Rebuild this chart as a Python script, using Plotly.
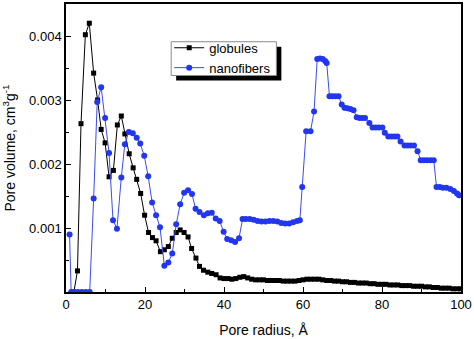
import plotly.graph_objects as go

# globules (black squares)
glob_x = [2, 2.9, 3.8, 4.9, 5.9, 7.0, 8.0, 8.9, 9.9, 10.9, 12.0, 13.0, 14.0, 14.9, 16.0, 17.0,
          17.9, 18.9, 19.9, 20.9, 21.9, 22.8, 23.9, 24.9, 25.9, 26.9, 27.9, 28.9, 29.9, 30.9,
          31.8, 32.9, 33.8, 34.8, 35.9, 36.9, 38, 39, 40, 41, 42, 43, 44, 45, 46, 47, 48, 49,
          50, 51, 52, 53, 54, 55, 56, 57, 58, 59, 60, 61, 62, 63, 64, 65, 66, 67, 68, 69, 70,
          71, 72, 73, 74, 75, 76, 77, 78, 79, 80, 81, 82, 83, 84, 85, 86, 87, 88, 89, 90, 91,
          92, 93, 94, 95, 96, 97, 98, 99, 100]
glob_y = [0, 0.00033, 0.00263, 0.00402, 0.0042, 0.00342, 0.0030, 0.00254, 0.00233, 0.0018,
          0.0019, 0.00261, 0.00275, 0.00247, 0.00216, 0.00194, 0.00176, 0.00154, 0.0012,
          0.00093, 0.00085, 0.0008, 0.00063, 0.00066, 0.00071, 0.00084, 0.00093, 0.00097,
          0.00093, 0.00086, 0.00068, 0.00053, 0.0004, 0.00034, 0.00031, 0.00029, 0.00027,
          0.00022, 0.00021, 0.00021, 0.0002, 0.00021, 0.00023, 0.00024, 0.00022, 0.0002,
          0.00019, 0.00019, 0.00019, 0.00018, 0.00018, 0.00018, 0.00018, 0.00017, 0.00017,
          0.00017, 0.00017, 0.00018, 0.00019, 0.0002, 0.0002, 0.0002, 0.0002, 0.00019,
          0.00018, 0.00018, 0.00017, 0.00017, 0.00016, 0.00016, 0.00015, 0.00015, 0.00014,
          0.00014, 0.00014, 0.00013, 0.00013, 0.00012, 0.00012, 0.00012, 0.00011, 0.00011,
          0.00011, 0.0001, 0.0001, 0.0001, 0.00009, 0.00009, 0.00009, 0.00008, 0.00008,
          0.00007, 0.00007, 0.00006, 0.00006, 0.00006, 0.00005, 0.00005, 0.00005]

# nanofibers (blue circles)
nano_x = [0.9, 1.3, 2, 3, 4, 5, 6, 7, 7.9, 8.9, 9.9, 10.9, 11.9, 12.9, 14.0, 14.9, 15.9, 16.9,
          17.9, 18.8, 19.8, 20.8, 21.8, 22.8, 23.8, 24.9, 25.9, 26.9, 27.9, 28.9, 29.9, 30.9,
          31.9, 32.8, 33.8, 34.9, 35.9, 36.9, 37.9, 38.9, 39.9, 40.8, 41.8, 42.8, 43.8, 44.7,
          45.5, 46.5, 47.5, 48.5, 49.5, 50.5, 51.5, 52.5, 53.5, 54.5, 55.5, 56.5, 57.5, 58.5,
          59.2, 59.8, 60.8, 61.9, 62.8, 63.6, 64.3, 65, 65.6, 66, 66.7, 67.4, 68.2, 69, 69.8,
          70.5, 71.2, 72, 72.8, 73.6, 74.3, 75, 75.7, 76.8, 77.6, 78.4, 79.2, 80.1, 80.7, 81.6,
          82.4, 83.2, 83.9, 84.7, 85.7, 86.5, 87.3, 88.1, 89, 89.8, 90.6, 91.4, 92.3, 93.1,
          93.8, 94.6, 95.4, 96.3, 97.3, 98.2, 99, 99.5]
nano_y = [0.0009, 0, 0, 0, 0, 0, 0, 0.00146, 0.00297, 0.0032, 0.00272, 0.00217, 0.00112,
          0.00099, 0.00179, 0.00231, 0.0025, 0.00248, 0.00241, 0.00232, 0.00213, 0.00181,
          0.0014, 0.0012, 0.00101, 0.00041, 0.00046, 0.0006, 0.00106, 0.00137, 0.00155,
          0.00159, 0.00153, 0.0013, 0.00125, 0.0012, 0.00123, 0.00124, 0.00115, 0.00111,
          0.00094, 0.00083, 0.00081, 0.00078, 0.00084, 0.00114, 0.00114, 0.00114, 0.00113,
          0.00111, 0.0011, 0.0011, 0.00111, 0.00111, 0.0011, 0.00108, 0.00107, 0.00107,
          0.00109, 0.00111, 0.00112, 0.00164, 0.00251, 0.00251, 0.00282, 0.00364, 0.00365,
          0.00364, 0.00361, 0.00358, 0.00306, 0.00306, 0.00306, 0.00306, 0.00293, 0.00288,
          0.00287, 0.00286, 0.00284, 0.00273, 0.00272, 0.00272, 0.00272, 0.00264, 0.00257,
          0.00257, 0.00257, 0.00257, 0.00249, 0.00243, 0.00243, 0.00243, 0.00243, 0.00235,
          0.00229, 0.00229, 0.00229, 0.00229, 0.0022, 0.00206, 0.00206, 0.00206, 0.00206,
          0.00206, 0.00164, 0.00164, 0.00163, 0.00163, 0.00161, 0.00158, 0.00154, 0.00151]

x_ticks = [0, 20, 40, 60, 80, 100]
y_ticks = [0.001, 0.002, 0.003, 0.004]
y_minor = [0.0005, 0.0015, 0.0025, 0.0035]
x_minor = [10, 30, 50, 70, 90]

FONT = "Liberation Sans, Arial, sans-serif"
BLUE = "#2236f0"

# plot area in pixels (for converting the legend box position to paper coords)
PX_L, PX_R, PX_T, PX_B = 66.0, 464.0, 2.0, 292.0


def px_x(p):
    return (p - PX_L) / (PX_R - PX_L)


def px_y(p):
    return (PX_B - p) / (PX_B - PX_T)


fig = go.Figure()
fig.add_trace(go.Scatter(
    x=glob_x, y=glob_y, name="globules", mode="lines+markers",
    line=dict(color="black", width=1),
    marker=dict(symbol="square", size=5, color="black"),
))
fig.add_trace(go.Scatter(
    x=nano_x, y=nano_y, name="nanofibers", mode="lines+markers",
    line=dict(color="#3a4cf0", width=1),
    marker=dict(symbol="circle", size=6, color=BLUE),
))

# legend frame with drop shadow
fig.add_shape(type="rect", xref="paper", yref="paper",
              x0=px_x(177), x1=px_x(283), y0=px_y(79), y1=px_y(45),
              fillcolor="black", line=dict(width=0), layer="above")
fig.add_shape(type="rect", xref="paper", yref="paper",
              x0=px_x(172), x1=px_x(278), y0=px_y(74), y1=px_y(40),
              fillcolor="white", line=dict(color="#8a8a8a", width=1), layer="above")

fig.update_layout(
    width=474, height=339,
    margin=dict(l=66, r=10, t=2, b=47),
    paper_bgcolor="white", plot_bgcolor="white",
    font=dict(family=FONT, size=13, color="black"),
    showlegend=True,
    legend=dict(x=px_x(170), y=px_y(31), xanchor="left", yanchor="top",
                bgcolor="rgba(0,0,0,0)", borderwidth=0,
                font=dict(size=13), tracegroupgap=0),
    xaxis=dict(range=[0, 100], tickvals=x_ticks, ticks="inside", ticklen=5,
               tickcolor="black", showline=True, linecolor="black", linewidth=1.5,
               mirror=True, showgrid=False, zeroline=False, ticklabeloverflow="allow",
               minor=dict(tickvals=x_minor, ticks="inside", ticklen=3, tickcolor="black"),
               title=dict(text="Pore radius, Å", font=dict(size=14), standoff=14),
               tickfont=dict(size=13)),
    yaxis=dict(range=[0, 0.0045], tickvals=y_ticks, tickformat=".3f", ticks="inside",
               ticklen=5, tickcolor="black", showline=True, linecolor="black",
               linewidth=1.5, mirror=True, showgrid=False, zeroline=False,
               minor=dict(tickvals=y_minor, ticks="inside", ticklen=3, tickcolor="black"),
               title=dict(text="Pore volume, cm<sup>3</sup>g<sup>-1</sup>",
                          font=dict(size=14), standoff=10),
               tickfont=dict(size=13)),
)

fig.write_html("out.html")
